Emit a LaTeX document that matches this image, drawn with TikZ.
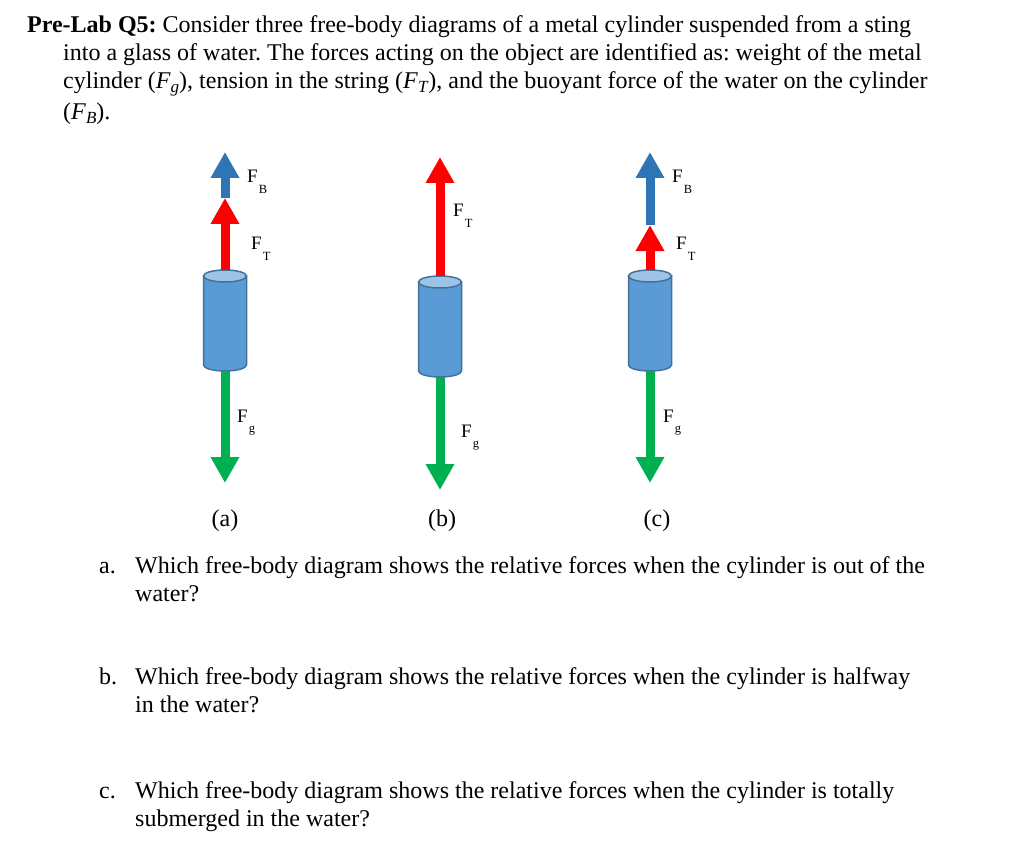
\documentclass[tikz,border=0pt]{standalone}
\usepackage{fontspec}
\setmainfont{Liberation Serif}
\usetikzlibrary{arrows.meta}

\definecolor{forceblue}{HTML}{2E75B6}
\definecolor{forcered}{HTML}{FF0000}
\definecolor{forcegreen}{HTML}{00B050}
\definecolor{cylbody}{HTML}{5B9BD5}
\definecolor{cyltop}{HTML}{9DC3E6}
\definecolor{cylline}{HTML}{41719C}

\newcommand{\flabel}[2]{F\raisebox{-10pt}{\kern1pt\fontsize{12.5}{12.5}\selectfont #2}}
\newcommand{\fitalic}[1]{\textit{F}\raisebox{-4pt}{\fontsize{17}{17}\selectfont\textit{#1}}}

\tikzset{
  txt/.style={anchor=base west, inner sep=0pt, font=\fontsize{24}{28}\selectfont},
  caption/.style={anchor=base, inner sep=0pt, font=\fontsize{24}{28}\selectfont},
  force/.style={line width=9pt, -{Triangle[width=27pt,length=26pt]}},
  fname/.style={anchor=base west, inner sep=0pt, font=\fontsize{19}{19}\selectfont},
  cyl/.pic={
    \draw[fill=cylbody, draw=cylline, line width=1.5pt] (-21.5,0) -- (-21.5,89)
      arc[start angle=180, end angle=360, x radius=21.5, y radius=-6] -- (21.5,0) -- cycle;
    \draw[fill=cyltop, draw=cylline, line width=1.5pt] (0,0) ellipse[x radius=21.5, y radius=6];
    \coordinate (-top) at (0,-6);
    \coordinate (-bottom) at (0,95);
  }
}

\begin{document}
\frenchspacing
\begin{tikzpicture}[x=1pt, y=-1pt]
\useasboundingbox (0,0) rectangle (1013,848);

% -------------------------------------------------------
% 1. Question text
% -------------------------------------------------------
\node[txt] (qone) at (27,33) {\textbf{Pre-Lab Q5:} Consider three free-body diagrams of a metal cylinder suspended from a sting};
\node[txt] (qtwo) at (63,61) {into a glass of water. The forces acting on the object are identified as: weight of the metal};
\node[txt] (qthree) at (63,89) {cylinder (\fitalic{g}), tension in the string (\fitalic{T}), and the buoyant force of the water on the cylinder};
\node[txt] (qfour) at (63,120) {(\fitalic{B}).};

% -------------------------------------------------------
% 2. Cylinders
% -------------------------------------------------------
\pic (cyla) at (225,276) {cyl};
\pic (cylb) at (440,282) {cyl};
\pic (cylc) at (650,276) {cyl};

% -------------------------------------------------------
% 3. Forces
% -------------------------------------------------------
\coordinate (topa) at (225,152);
\coordinate (mida) at (225,198);
\coordinate (enda) at (225,483);
\coordinate (topb) at (440,157);
\coordinate (endb) at (440,490);
\coordinate (topc) at (650,152);
\coordinate (midc) at (650,225);
\coordinate (endc) at (650,483);

% (a)
\draw[force, forceblue] (mida) -- (topa);
\draw[force, forcered] (cyla-top) -- (mida);
\draw[force, forcegreen] (cyla-bottom) -- (enda);
% (b)
\draw[force, forcered] (cylb-top) -- (topb);
\draw[force, forcegreen] (cylb-bottom) -- (endb);
% (c)
\draw[force, forceblue] (midc) -- (topc);
\draw[force, forcered] (cylc-top) -- (midc);
\draw[force, forcegreen] (cylc-bottom) -- (endc);

% -------------------------------------------------------
% 4. Force labels
% -------------------------------------------------------
\node[fname] (fba) at (247,183) {\flabel{F}{B}};
\node[fname] (fta) at (251,250) {\flabel{F}{T}};
\node[fname] (fga) at (237,422) {\flabel{F}{g}};
\node[fname] (ftb) at (453,217) {\flabel{F}{T}};
\node[fname] (fgb) at (461,437) {\flabel{F}{g}};
\node[fname] (fbc) at (672,183) {\flabel{F}{B}};
\node[fname] (ftc) at (676,250) {\flabel{F}{T}};
\node[fname] (fgc) at (663,422) {\flabel{F}{g}};

\node[caption] (capa) at (225,526) {(a)};
\node[caption] (capb) at (442,526) {(b)};
\node[caption] (capc) at (657,526) {(c)};

% -------------------------------------------------------
% 5. Parts a, b, c
% -------------------------------------------------------
\node[txt] (parta) at (99,573) {a.};
\node[txt] (partaone) at (135,573) {Which free-body diagram shows the relative forces when the cylinder is out of the};
\node[txt] (partatwo) at (135,601) {water?};

\node[txt] (partb) at (99,684) {b.};
\node[txt] (partbone) at (135,684) {Which free-body diagram shows the relative forces when the cylinder is halfway};
\node[txt] (partbtwo) at (135,712) {in the water?};

\node[txt] (partc) at (99,798) {c.};
\node[txt] (partcone) at (135,798) {Which free-body diagram shows the relative forces when the cylinder is totally};
\node[txt] (partctwo) at (135,826) {submerged in the water?};

\end{tikzpicture}
\end{document}
